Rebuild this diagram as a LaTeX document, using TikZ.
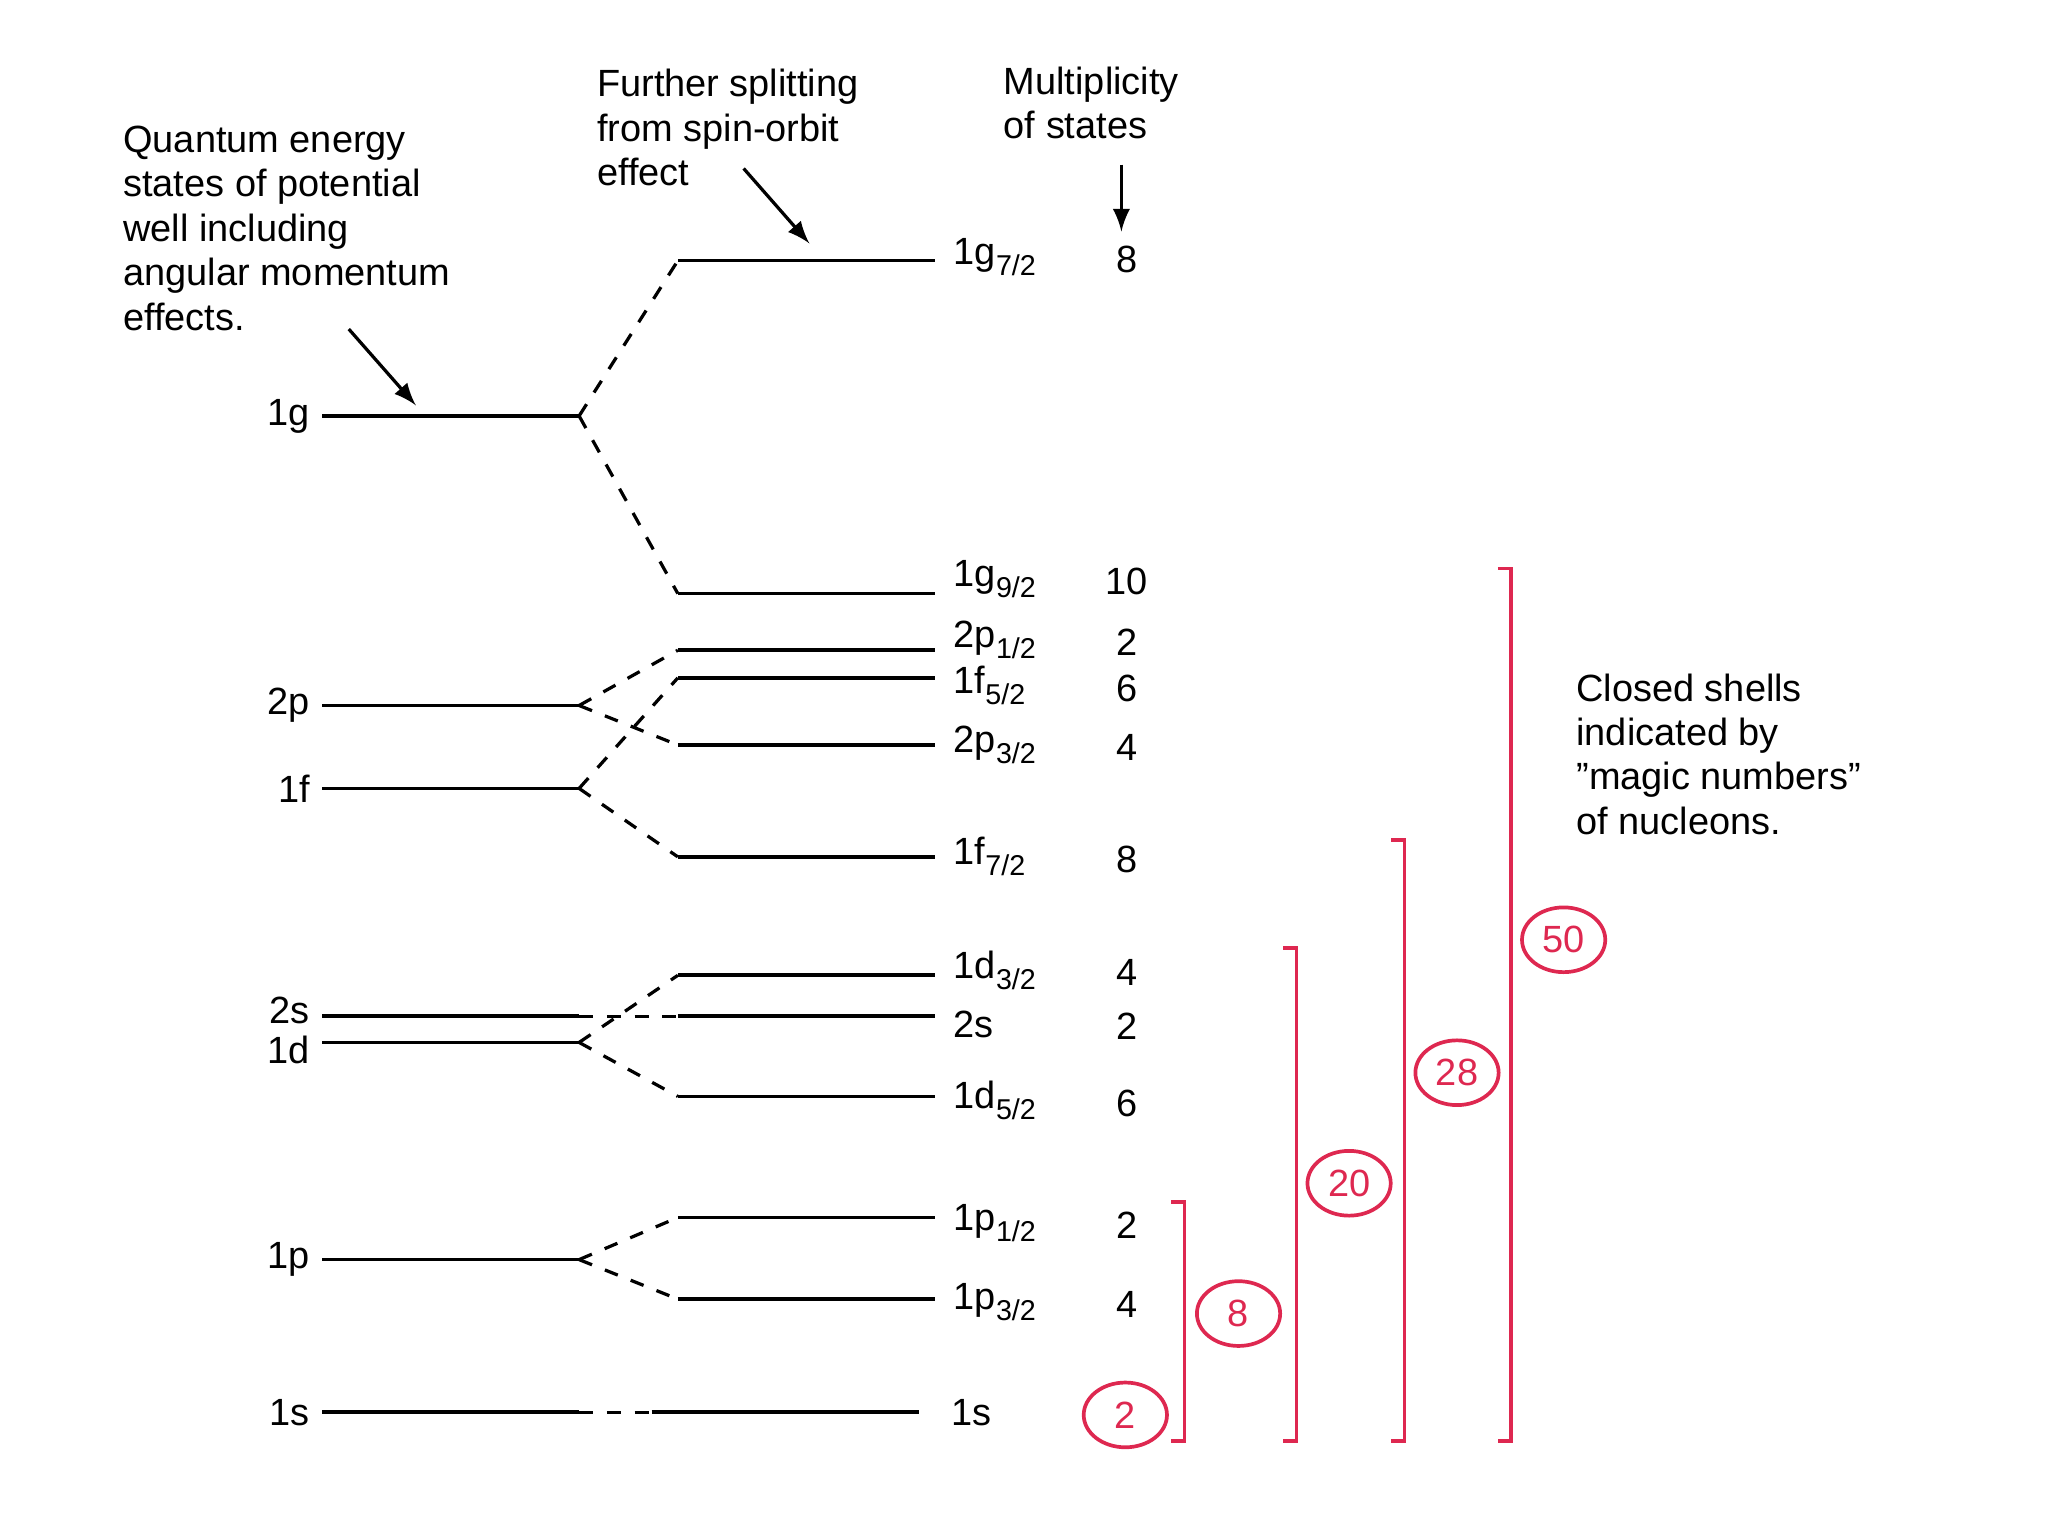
\documentclass[tikz,border=0pt]{standalone}
\usepackage{fontspec}
\setmainfont{Liberation Sans}
\usetikzlibrary{shapes.geometric}
\definecolor{mred}{RGB}{222,40,80}
\newcommand{\sbs}[1]{\raisebox{-0.55ex}{\fontsize{6.2}{7}\selectfont #1}}
\begin{document}
\begin{tikzpicture}[x=0.1mm,y=-0.1mm,
  lvl/.style={line width=0.8pt},
  conn/.style={dashed,line width=0.7pt},
  lab/.style={font=\fontsize{8.2}{9.6}\selectfont,inner sep=0pt},
  txt/.style={font=\fontsize{8.2}{9.6}\selectfont,align=left,anchor=north west,inner sep=0pt},
  br/.style={mred,line width=0.8pt},
  magic/.style={draw=mred,text=mred,ellipse,minimum width=18pt,minimum height=14pt,inner sep=0pt,line width=0.8pt,font=\fontsize{8.2}{9.6}\selectfont}]
\useasboundingbox (0,0) rectangle (1556,1167);
% left levels
\foreach \n/\y/\ty/\t in {g/316/316/1g,p2/536/536/2p,f/599/599/1f,s2/772/768/2s,d/792/798/1d,p/957/957/1p,s/1073/1073/1s}{
  \coordinate (L\n a) at (245,\y); \coordinate (L\n) at (440,\y);
  \draw[lvl] (L\n a) -- (L\n);
  \node[lab,anchor=east] (t\n) at (236,\ty) {\t};
}
% right levels
\foreach \n/\y/\ty/\t/\m in {
  g7/198/195/{1g\sbs{7/2}}/8, g9/451/440/{1g\sbs{9/2}}/10, pa/494/486/{2p\sbs{1/2}}/2, fb/515/521/{1f\sbs{5/2}}/6,
  pc/566/566/{2p\sbs{3/2}}/4, f7/651/651/{1f\sbs{7/2}}/8, d3/741/737/{1d\sbs{3/2}}/4, s2r/772/778/{2s}/2,
  d5/833/836/{1d\sbs{5/2}}/6, p1/925/929/{1p\sbs{1/2}}/2, p3/987/989/{1p\sbs{3/2}}/4}{
  \coordinate (R\n) at (515,\y); \coordinate (R\n b) at (710,\y);
  \draw[lvl] (R\n) -- (R\n b);
  \node[lab,anchor=west] (t\n) at (724,\ty) {\t};
  \node[lab] (m\n) at (856,\ty+2) {\m};
}
\coordinate (Rs) at (495,1073); \coordinate (Rsb) at (698,1073);
\draw[lvl] (Rs) -- (Rsb);
\node[lab,anchor=west] (ts) at (722,1073) {1s};
% dashed connectors
\foreach \a/\b in {g/g7,g/g9,p2/pa,p2/pc,f/fb,f/f7,s2/s2r,d/d3,d/d5,p/p1,p/p3,s/s}{
  \draw[conn] (L\a) -- (R\b);
}
% red brackets
\foreach \x/\t in {900/913,985/720,1067/638,1148/432}{
  \draw[br] (\x-10,\t) -- (\x,\t) -- (\x,1095) -- (\x-10,1095);
}
\node[magic] (c2) at (855,1075) {2};
\node[magic] (c8) at (941,998) {8};
\node[magic] (c20) at (1025,899) {20};
\node[magic] (c28) at (1107,815) {28};
\node[magic] (c50) at (1188,714) {50};
% texts
\node[txt] (q) at (93,95) {Quantum energy\\states of potential\\well including\\angular momentum\\effects.};
\node[txt] (fs) at (453,52) {Further splitting\\from spin-orbit\\effect};
\node[txt] (ms) at (762,50) {Multiplicity\\of states};
\node[txt] (cs) at (1197,511) {Closed shells\\indicated by\\\symbol{34}magic numbers\symbol{34}\\of nucleons.};
\coordinate (a1) at (265,250); \coordinate (a1e) at (316,308);
\coordinate (a2) at (565,128); \coordinate (a2e) at (615,185);
\coordinate (a3) at (852,125); \coordinate (a3e) at (852,176);
\draw[-latex,line width=0.7pt] (a1) -- (a1e);
\draw[-latex,line width=0.7pt] (a2) -- (a2e);
\draw[-latex,line width=0.7pt] (a3) -- (a3e);
\end{tikzpicture}
\end{document}
